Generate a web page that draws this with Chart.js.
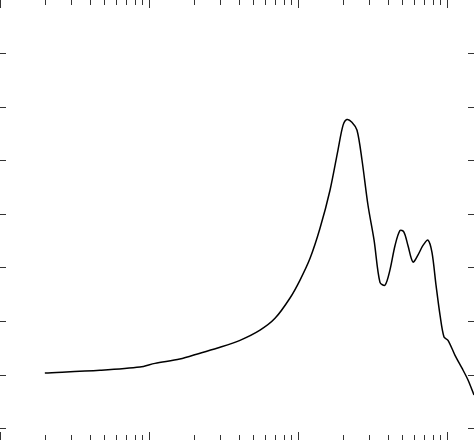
<!DOCTYPE html>
<html>
<head>
<script src="https://cdn.jsdelivr.net/npm/chart.js@4"></script>
<style>body{margin:0;background:#fff}#wrap{width:474px;height:440px}</style>
</head>
<body>
<div id="wrap"><canvas id="c"></canvas></div>
<script>
const xValues = [2.0, 4.69, 8.7, 10.97, 16.1, 22.0, 30.0, 40.8, 55.6, 70.1, 88.4, 103, 120.5, 140.5, 164, 185.5, 200.5, 213, 230, 249, 269, 295, 324, 355, 384, 414, 448, 484, 514, 547, 591, 638, 690, 745, 793, 844, 898, 955, 1016, 1132, 1261, 1384, 1518];
const yValues = [1.03, 1.08, 1.14, 1.21, 1.29, 1.40, 1.51, 1.64, 1.83, 2.05, 2.43, 2.76, 3.17, 3.73, 4.44, 5.19, 5.65, 5.76, 5.71, 5.56, 5.00, 4.16, 3.51, 2.72, 2.67, 2.95, 3.41, 3.69, 3.66, 3.41, 3.10, 3.23, 3.41, 3.51, 3.28, 2.67, 2.11, 1.70, 1.64, 1.36, 1.12, 0.90, 0.62];
const yTicks = [0, 1, 2, 3, 4, 5, 6, 7];

// tick marks drawn inside the plot edges
const tickPlugin = {
  id: 'ticks',
  afterDraw(chart) {
    const ctx = chart.ctx;
    const a = chart.chartArea;
    const x = chart.scales.x, y = chart.scales.y;
    ctx.save();
    ctx.strokeStyle = '#333';
    ctx.lineWidth = 1;
    for (let d = 1; d <= 1000; d *= 10) {
      for (let m = 1; m < 10; m++) {
        const v = d * m;
        if (v > x.max) break;
        const px = Math.round(x.getPixelForValue(v)) + 0.5;
        const len = m === 1 ? 8 : 5;
        ctx.beginPath();
        ctx.moveTo(px, a.top); ctx.lineTo(px, a.top + len);
        ctx.moveTo(px, a.bottom); ctx.lineTo(px, a.bottom - len);
        ctx.stroke();
      }
    }
    yTicks.forEach(v => {
      const py = Math.round(y.getPixelForValue(v)) + 0.5;
      ctx.beginPath();
      ctx.moveTo(a.left, py); ctx.lineTo(a.left + 6, py);
      ctx.moveTo(a.right, py); ctx.lineTo(a.right - 6, py);
      ctx.stroke();
    });
    ctx.restore();
  }
};

new Chart(document.getElementById('c'), {
  type: 'line',
  data: {
    datasets: [{
      data: xValues.map((v, i) => ({ x: v, y: yValues[i] })),
      borderColor: '#000',
      borderWidth: 1.5,
      pointRadius: 0,
      tension: 0.3,
      fill: false
    }]
  },
  options: {
    responsive: true,
    maintainAspectRatio: false,
    animation: false,
    layout: { padding: 0 },
    plugins: { legend: { display: false }, tooltip: { enabled: false } },
    scales: {
      x: { type: 'logarithmic', min: 1, max: 1518, display: false },
      y: { min: -0.22, max: 7.99, display: false }
    }
  },
  plugins: [tickPlugin]
});
</script>
</body>
</html>
